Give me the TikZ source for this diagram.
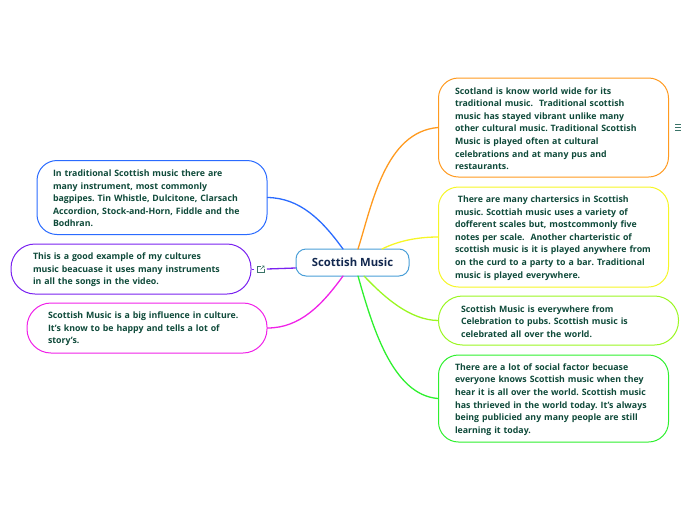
\documentclass[tikz,border=0pt]{standalone}
\usepackage{fontspec}
\setmainfont[BoldFont={Open Sans Bold}]{Noto Sans}
\definecolor{inktext}{HTML}{0F4A3A}
\definecolor{roottext}{HTML}{12284F}
\definecolor{rootline}{HTML}{4A9FD8}
\definecolor{iconline}{HTML}{3A7468}
\definecolor{orangeline}{HTML}{FF9A1F}
\definecolor{yellowline}{HTML}{F6F626}
\definecolor{limeline}{HTML}{9BF722}
\definecolor{greenline}{HTML}{2FF02F}
\definecolor{blueline}{HTML}{2A6BFF}
\definecolor{purpleline}{HTML}{7A22F0}
\definecolor{pinkline}{HTML}{F022E8}
\begin{document}
\begin{tikzpicture}[x=1pt,y=-1pt]

      \tikzset{enclosed/.style={draw, rounded corners=20pt, line width=1pt, inner sep=0pt, anchor=center, fill=white,
            text=inktext, align=left, font=\bfseries\fontsize{8.78}{12.6}\selectfont\frenchspacing,
            execute at end node={\par\vspace*{-2pt}}},
        branch/.style={line width=1.3pt, line cap=round},
        badge/.style={draw=iconline, line width=.7pt}}
      \useasboundingbox (0,0) rectangle (696,520);
%% Topics
      	\node[enclosed, draw=orangeline, minimum width=230pt, minimum height=99pt, text width=197pt] (scotland) at (553.5,127.5)
      	  {Scotland is know world wide for its\\traditional music.\ \ Traditional scottish\\music has stayed vibrant unlike many\\other cultural music. Traditional Scottish\\Music is played often at cultural\\celebrations and at many pus and\\restaurants.};
      	\node[enclosed, draw=yellowline, minimum width=230pt, minimum height=100pt, text width=197pt] (scales) at (553.5,237)
      	  {\ There are many chartersics in Scottish\\music. Scottiah music uses a variety of\\dofferent scales but,\ mostcommonly five\\notes per scale.\ \ Another charteristic of\\scottish music is it is played anywhere from\\on the curd to a party to a bar.\ Traditional\\music is played everywhere.};
      	\node[enclosed, draw=limeline, rounded corners=24pt, minimum width=240pt, minimum height=49pt, text width=195pt] (pubs) at (558.5,320.5)
      	  {Scottish Music is everywhere from\\Celebration to pubs. Scottish music is\\celebrated all over the world.};
      	\node[enclosed, draw=greenline, minimum width=230pt, minimum height=87pt, text width=197pt] (social) at (553.5,398.5)
      	  {There are a lot of social factor becuase\\everyone knows Scottish music when they\\hear it is all over the world. Scottish music\\has thrieved in the world today. It's always\\being publicied any many people are still\\learning it today.};
      	\node[enclosed, draw=blueline, minimum width=230pt, minimum height=74pt, text width=198pt] (instruments) at (152,197.5)
      	  {In traditional Scottish music there are\\many instrument, most commonly\\bagpipes. Tin Whistle, Dulcitone, Clarsach\\Accordion, Stock-and-Horn, Fiddle and the\\Bodhran.};
      	\node[enclosed, draw=purpleline, rounded corners=24pt, minimum width=240pt, minimum height=50pt, text width=196pt] (video) at (131,269)
      	  {This is a good example of my cultures\\music beacuase it uses many instruments\\in all the songs in the video.};
      	\node[enclosed, draw=pinkline, rounded corners=24pt, minimum width=240pt, minimum height=50pt, text width=198pt] (culture) at (147,328)
      	  {Scottish Music is a big influence in culture.\\It's know to be happy and tells a lot of\\story's.};
%Centre
      	\node[draw=rootline, fill=white, rounded corners=10pt, line width=1pt, minimum width=113pt, minimum height=27pt, inner sep=0pt,
      	  text=roottext, font=\bfseries\fontsize{11.3}{12}\selectfont] (root) at (352.5,262.5) {Scottish Music};
%Ends of the branches on the centre
      	\coordinate (rootorange) at (358,249);
      	\coordinate (rootyellow) at (382,249);
      	\coordinate (rootlime) at (364,276);
      	\coordinate (rootgreen) at (358,276);
      	\coordinate (rootblue) at (343,249);
      	\coordinate (rootpink) at (343,276);
%Icons
      	\node[minimum size=13pt, inner sep=0pt] (linkicon) at (260.5,269) {};
      	\draw[badge] (264,268.5) -- (264,272.5) -- (257.5,272.5) -- (257.5,266) -- (260.5,266);
      	\draw[badge, line width=.5pt] (260.5,269.5) -- (264,266) (262,265.8) -- (264.2,265.8) -- (264.2,268);
      	\node[minimum size=9pt, inner sep=0pt] (menuicon) at (678,127) {};
      	\draw[badge] (675,124) -- (681,124) (675,127) -- (681,127) (675,130) -- (681,130);
%Branches
		\path[branch, draw=orangeline] (rootorange) .. controls (372,205) and (385,132) .. (scotland.west);
		\path[branch, draw=yellowline] (rootyellow) .. controls (400,240) and (420,237) .. (scales.west);
		\path[branch, draw=limeline] (rootlime) .. controls (385,298) and (410,320) .. (pubs.west);
		\path[branch, draw=greenline] (rootgreen) .. controls (372,325) and (392,395) .. (social.west);
		\path[branch, draw=blueline] (rootblue) .. controls (322,220) and (300,198) .. (instruments.east);
		\path[branch, draw=pinkline] (rootpink) .. controls (322,305) and (300,328) .. (culture.east);
		\path[branch, draw=purpleline] (root.west) ++(0,5.5) -- (linkicon.east);
		\path[draw=purpleline, line width=.5pt] (linkicon.west) -- (video.east);

	\end{tikzpicture}
\end{document}
